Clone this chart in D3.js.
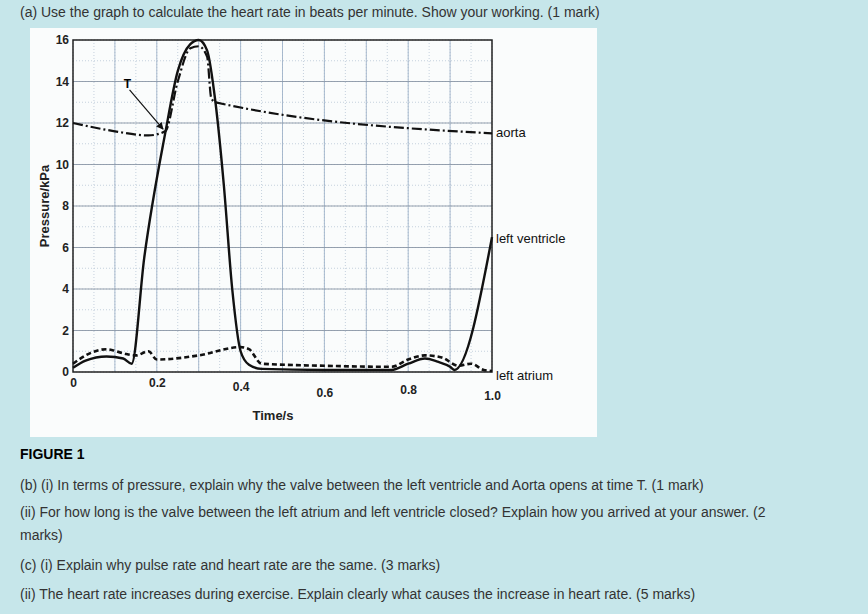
<!DOCTYPE html>
<html>
<head>
<meta charset="utf-8">
<script src="https://d3js.org/d3.v7.min.js"></script>
<style>
body { margin: 0; background: #c6e6ea; font-family: "Liberation Sans", Arial, sans-serif; color: #333; }
svg text { font-family: "Liberation Sans", Arial, sans-serif; }
</style>
</head>
<body>
<svg id="page" width="868" height="614"></svg>
<script>
const xTicks = [0, 0.2, 0.4, 0.6, 0.8, 1.0]
const yTicks = [0, 2, 4, 6, 8, 10, 12, 14, 16]

const ventricleT = [0, 0.03, 0.08, 0.12, 0.14, 0.17, 0.22, 0.25, 0.28, 0.30, 0.32, 0.34, 0.36, 0.38, 0.40, 0.42, 0.45, 0.6, 0.76, 0.8, 0.84, 0.87, 0.9, 0.91, 1.0]
const ventricleP = [0.2, 0.55, 0.75, 0.65, 0.4, 5.5, 11.5, 14.5, 15.8, 16, 15.5, 13, 9, 4, 1, 0.35, 0.15, 0.1, 0.1, 0.4, 0.65, 0.5, 0.25, 0.1, 6.5]
const atriumT = [0, 0.04, 0.08, 0.12, 0.15, 0.18, 0.2, 0.3, 0.4, 0.42, 0.45, 0.6, 0.76, 0.8, 0.84, 0.88, 0.92, 0.95, 0.98, 1.0]
const atriumP = [0.4, 0.9, 1.1, 0.9, 0.8, 1.0, 0.6, 0.8, 1.2, 1.1, 0.4, 0.3, 0.25, 0.6, 0.8, 0.7, 0.3, 0.4, 0.1, 0.05]
const aortaT = [0, 0.1, 0.18, 0.22, 0.25, 0.28, 0.3, 0.32, 0.33, 0.34, 1.0]
const aortaP = [12, 11.6, 11.4, 11.6, 14, 15.6, 15.7, 15.2, 13.2, 13, 11.5]

const svg = d3.select('#page')

svg.append('text').attr('x', 20).attr('y', 17).attr('font-size', 14).attr('fill', '#333')
	.text('(a) Use the graph to calculate the heart rate in beats per minute. Show your working. (1 mark)')

svg.append('rect').attr('x', 30).attr('y', 28).attr('width', 567).attr('height', 409).attr('fill', '#fafcfc')

const pLeft = 73, pRight = 492, pTop = 40, pBottom = 372
const x = d3.scaleLinear().domain([0, 1]).range([pLeft, pRight])
const y = d3.scaleLinear().domain([0, 16]).range([pBottom, pTop])
const g = svg.append('g')

// minor grid
g.append('g').selectAll('line').data(d3.range(0, 1.0001, 0.05)).join('line')
	.attr('x1', d => x(d)).attr('x2', d => x(d)).attr('y1', pTop).attr('y2', pBottom)
	.attr('stroke', '#b8c6d6').attr('stroke-width', 0.8).attr('stroke-dasharray', '1,2')
g.append('g').selectAll('line').data(d3.range(0, 16.001, 1)).join('line')
	.attr('x1', pLeft).attr('x2', pRight).attr('y1', d => y(d)).attr('y2', d => y(d))
	.attr('stroke', '#b8c6d6').attr('stroke-width', 0.8).attr('stroke-dasharray', '1,2')
// major grid
g.append('g').selectAll('line').data(d3.range(0.1, 1, 0.1)).join('line')
	.attr('x1', d => x(d)).attr('x2', d => x(d)).attr('y1', pTop).attr('y2', pBottom)
	.attr('stroke', '#9fb2c8').attr('stroke-width', 0.9)
g.append('g').selectAll('line').data(yTicks.slice(1, -1)).join('line')
	.attr('x1', pLeft).attr('x2', pRight).attr('y1', d => y(d)).attr('y2', d => y(d))
	.attr('stroke', '#8a96a6').attr('stroke-width', 0.9)

g.append('rect').attr('x', pLeft).attr('y', pTop).attr('width', pRight - pLeft).attr('height', pBottom - pTop)
	.attr('fill', 'none').attr('stroke', '#222').attr('stroke-width', 1.5)

const yAxis = g.append('g').attr('transform', `translate(${pLeft},0)`)
	.call(d3.axisLeft(y).tickValues(yTicks).tickSize(0).tickPadding(4).tickFormat(d3.format('d')))
yAxis.select('.domain').remove()
yAxis.selectAll('text').attr('font-size', 12).attr('font-weight', 'bold').attr('fill', '#222')

const xAxis = g.append('g').attr('transform', `translate(0,${pBottom})`)
	.call(d3.axisBottom(x).tickValues(xTicks).tickSize(0).tickPadding(8)
		.tickFormat(d => d === 0 ? '0' : d3.format('.1f')(d)))
xAxis.select('.domain').remove()
xAxis.selectAll('text').attr('font-size', 12).attr('font-weight', 'bold').attr('fill', '#222')
	.attr('dy', (d, i) => [0.6, 0.6, 0.9, 1.4, 1.2, 1.7][i] + 'em')

svg.append('text').attr('x', 273).attr('y', 420).attr('text-anchor', 'middle')
	.attr('font-size', 13).attr('font-weight', 'bold').attr('fill', '#222').text('Time/s')
svg.append('text').attr('transform', 'translate(49,206) rotate(-90)').attr('text-anchor', 'middle')
	.attr('font-size', 13).attr('font-weight', 'bold').attr('fill', '#222').text('Pressure/kPa')

const line = d3.line().curve(d3.curveMonotoneX)
const series = [
	[aortaT, aortaP, '10,3,2,3', 2.2],
	[atriumT, atriumP, '5,3', 2.6],
	[ventricleT, ventricleP, null, 2.4]
]
series.forEach(([ts, ps, dash, w]) => {
	g.append('path').attr('d', line(ts.map((t, i) => [x(t), y(ps[i])])))
		.attr('fill', 'none').attr('stroke', '#111').attr('stroke-width', w)
		.attr('stroke-dasharray', dash)
})

// T annotation
svg.append('defs').append('marker').attr('id', 'arr').attr('viewBox', '0 0 10 10')
	.attr('refX', 9).attr('refY', 5).attr('markerWidth', 6).attr('markerHeight', 6).attr('orient', 'auto')
	.append('path').attr('d', 'M0,0L10,5L0,10z').attr('fill', '#111')
g.append('line').attr('x1', x(0.135)).attr('y1', y(13.6)).attr('x2', x(0.215)).attr('y2', y(11.7))
	.attr('stroke', '#111').attr('stroke-width', 1.2).attr('marker-end', 'url(#arr)')
g.append('text').attr('x', x(0.13)).attr('y', y(13.7)).attr('text-anchor', 'middle')
	.attr('font-size', 12).attr('font-weight', 'bold').text('T')

const labels = [['aorta', 11.5], ['left ventricle', 6.4], ['left atrium', -0.2]]
g.selectAll('.lab').data(labels).join('text').attr('class', 'lab')
	.attr('x', pRight + 4).attr('y', d => y(d[1]) + 4).attr('font-size', 13).attr('fill', '#111')
	.text(d => d[0])

svg.append('text').attr('x', 20).attr('y', 459).attr('font-size', 14).attr('font-weight', 'bold').text('FIGURE 1')
const qs = [
	['(b) (i) In terms of pressure, explain why the valve between the left ventricle and Aorta opens at time T. (1 mark)', 490],
	['(ii) For how long is the valve between the left atrium and left ventricle closed? Explain how you arrived at your answer. (2', 517],
	['marks)', 540],
	['(c) (i) Explain why pulse rate and heart rate are the same. (3 marks)', 570],
	['(ii) The heart rate increases during exercise. Explain clearly what causes the increase in heart rate. (5 marks)', 599]
]
svg.selectAll('.q').data(qs).join('text').attr('class', 'q').attr('x', 20).attr('y', d => d[1])
	.attr('font-size', 14).attr('fill', '#333').text(d => d[0])
</script>
</body>
</html>
